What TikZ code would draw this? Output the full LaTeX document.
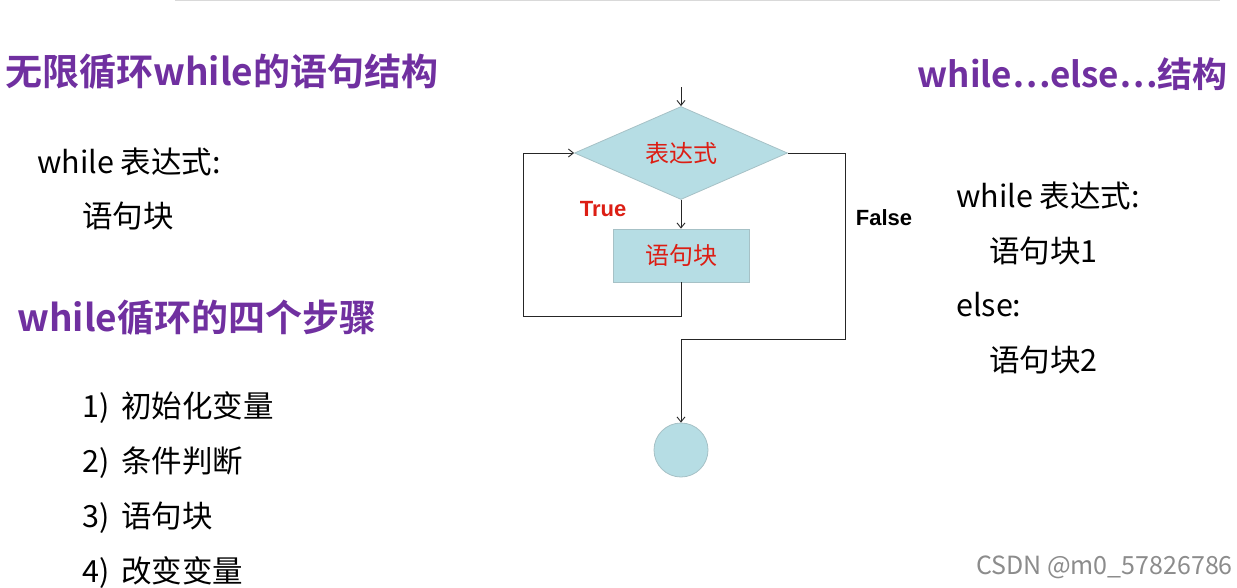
\documentclass[tikz,border=0pt]{standalone}
\usepackage{fontspec}
\setmainfont{Noto Sans CJK SC}
\newfontfamily\cjkb{Noto Sans CJK SC Bold}
\newfontfamily\arial{Liberation Sans}
\usetikzlibrary{shapes.geometric,arrows.meta}
\definecolor{ttl}{RGB}{112,48,160}
\definecolor{fillb}{RGB}{182,221,228}
\definecolor{redt}{RGB}{220,30,20}
\tikzset{
  ttlt/.style={anchor=west,text=ttl,font=\cjkb\fontsize{37}{40}\selectfont,inner sep=0},
  body/.style={anchor=west,font=\fontsize{30.5}{34}\selectfont,inner sep=0},
  shp/.style={fill=fillb,draw=fillb!70!gray,line width=0.8pt},
  ln/.style={line width=0.9pt,black!85},
  arr/.style={ln,-{Straight Barb[length=5pt,width=8pt]}},
}
\begin{document}
\begin{tikzpicture}[x=1pt,y=-1pt]
\useasboundingbox[fill=white] (0,0) rectangle (1237,587);
\draw[black!15,line width=1pt] (175,0.5) -- (1220,0.5);
\node[ttlt] (t1) at (5,72) {无限循环while的语句结构};
\node[body] (b1) at (37,162) {while 表达式:};
\node[body] (b2) at (82,216) {语句块};
\node[ttlt] (t2) at (17,318) {while循环的四个步骤};
\node[body] (s1) at (82,408) {1)\, 初始化变量};
\node[body] (s2) at (82,463) {2)\, 条件判断};
\node[body] (s3) at (82,518) {3)\, 语句块};
\node[body] (s4) at (82,573) {4)\, 改变变量};
\node[ttlt,anchor=east,font=\cjkb\fontsize{35}{38}\selectfont] (t3) at (1228,74) {while…else…结构};
\node[body] (w1) at (956,196) {while 表达式:};
\node[body] (w2) at (989,251) {语句块1};
\node[body] (w3) at (956,305) {else:};
\node[body] (w4) at (989,360) {语句块2};
\node[anchor=east,text=black!45,font=\fontsize{25}{28}\selectfont,inner sep=0] (cs) at (1233,567) {CSDN @m0\_57826786};
% flowchart
\node[diamond,shp,minimum width=213pt,minimum height=93pt,inner sep=0,aspect=2.3,text=redt,font=\fontsize{24}{26}\selectfont] (d) at (681,153) {表达式};
\node[rectangle,shp,minimum width=136pt,minimum height=53pt,text=redt,font=\fontsize{24}{26}\selectfont] (r) at (681,255.5) {语句块};
\node[circle,shp,minimum size=54pt,inner sep=0] (c) at (681,450) {};
\coordinate (top) at (681,87);
\node[text=redt,font=\arial\bfseries\fontsize{22}{24}\selectfont,inner sep=0] (tt) at (603,209) {True};
\node[font=\arial\bfseries\fontsize{22}{24}\selectfont,inner sep=0] (ff) at (884,218) {False};
\draw[arr] (top) -- (d.north);
\draw[arr] (d.south) -- (r.north);
\draw[arr] (r.south) -- (681,316) -- (523,316) -- (523,153) -- (d.west);
\draw[arr] (d.east) -- (845,153) -- (845,339) -- (681,339) -- (c.north);
\end{tikzpicture}
\end{document}
